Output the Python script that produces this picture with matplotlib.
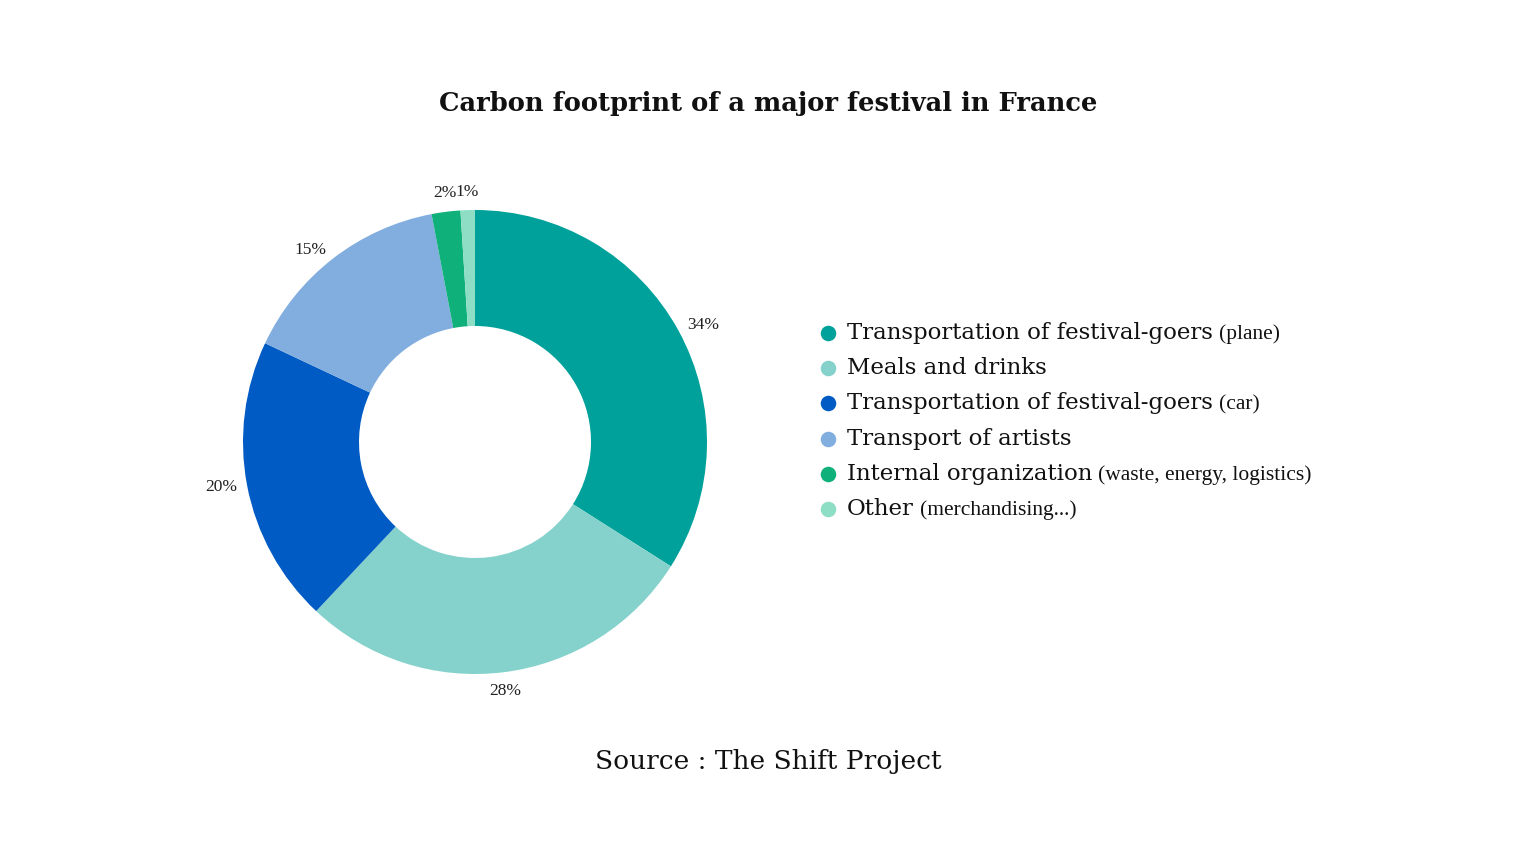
import numpy as np
import matplotlib
matplotlib.use("Agg")
import matplotlib.pyplot as plt

# data
categories = ["Transportation of festival-goers", "Meals and drinks",
              "Transportation of festival-goers", "Transport of artists",
              "Internal organization", "Other"]
notes = ["(plane)", "", "(car)", "", "(waste, energy, logistics)", "(merchandising...)"]
shares = [34, 28, 20, 15, 2, 1]
colors = ["#00A19A", "#84D2CB", "#005BC4", "#81AEDF", "#10B07A", "#8EDDC5"]

SERIF = ["DejaVu Serif"]
NARROW = ["Liberation Serif", "DejaVu Serif"]
W, H = 1536, 864
fig = plt.figure(figsize=(W / 100, H / 100), dpi=100, facecolor="white")

# donut: centre (475, 442) px, outer radius 232 px
R, cx, cy, half = 232, 475, 442, 1.3
ax = fig.add_axes([(cx - half * R) / W, (H - cy - half * R) / H, 2 * half * R / W, 2 * half * R / H])
wedges, texts = ax.pie(shares, colors=colors, startangle=90, counterclock=False,
                       labels=[f"{s}%" for s in shares], labeldistance=1.045,
                       wedgeprops=dict(width=0.5, linewidth=0),
                       textprops=dict(fontsize=12.5, family=NARROW, color="#222222"))
# labels at top/bottom sit above/below the ring instead of centred on it
for w, t in zip(wedges, texts):
    s = np.sin(np.deg2rad((w.theta1 + w.theta2) / 2))
    if s > 0.9:
        t.set_va("bottom"); t.set_ha("center")
    elif s < -0.9:
        t.set_va("top"); t.set_ha("center")
ax.set_xlim(-half, half); ax.set_ylim(-half, half); ax.set_aspect("equal"); ax.axis("off")

fig.text(768 / W, 1 - 103 / H, "Carbon footprint of a major festival in France",
         ha="center", va="center", fontsize=18.5, family=SERIF, fontweight="bold", color="#111111")
fig.text(768 / W, 1 - 761 / H, "Source : The Shift Project",
         ha="center", va="center", fontsize=19, family=SERIF, color="#111111")

# legend drawn by hand: main label + smaller parenthetical note
ov = fig.add_axes([0, 0, 1, 1]); ov.set_xlim(0, W); ov.set_ylim(H, 0); ov.axis("off")
fig.canvas.draw()
rend = fig.canvas.get_renderer()
y0, dy = 333, 35.2
for i, (cat, note, col) in enumerate(zip(categories, notes, colors)):
    y = y0 + i * dy
    ov.scatter([828], [y], s=125, color=col, linewidths=0)
    t = ov.text(847, y, cat, ha="left", va="center", fontsize=16.5, family=SERIF, color="#111111")
    if note:
        bb = t.get_window_extent(rend)
        ov.text(bb.x1 + 6, y + 1, note, ha="left", va="center", fontsize=15.5,
                family=NARROW, color="#111111")

fig.savefig("out.png", dpi=100, facecolor="white")
